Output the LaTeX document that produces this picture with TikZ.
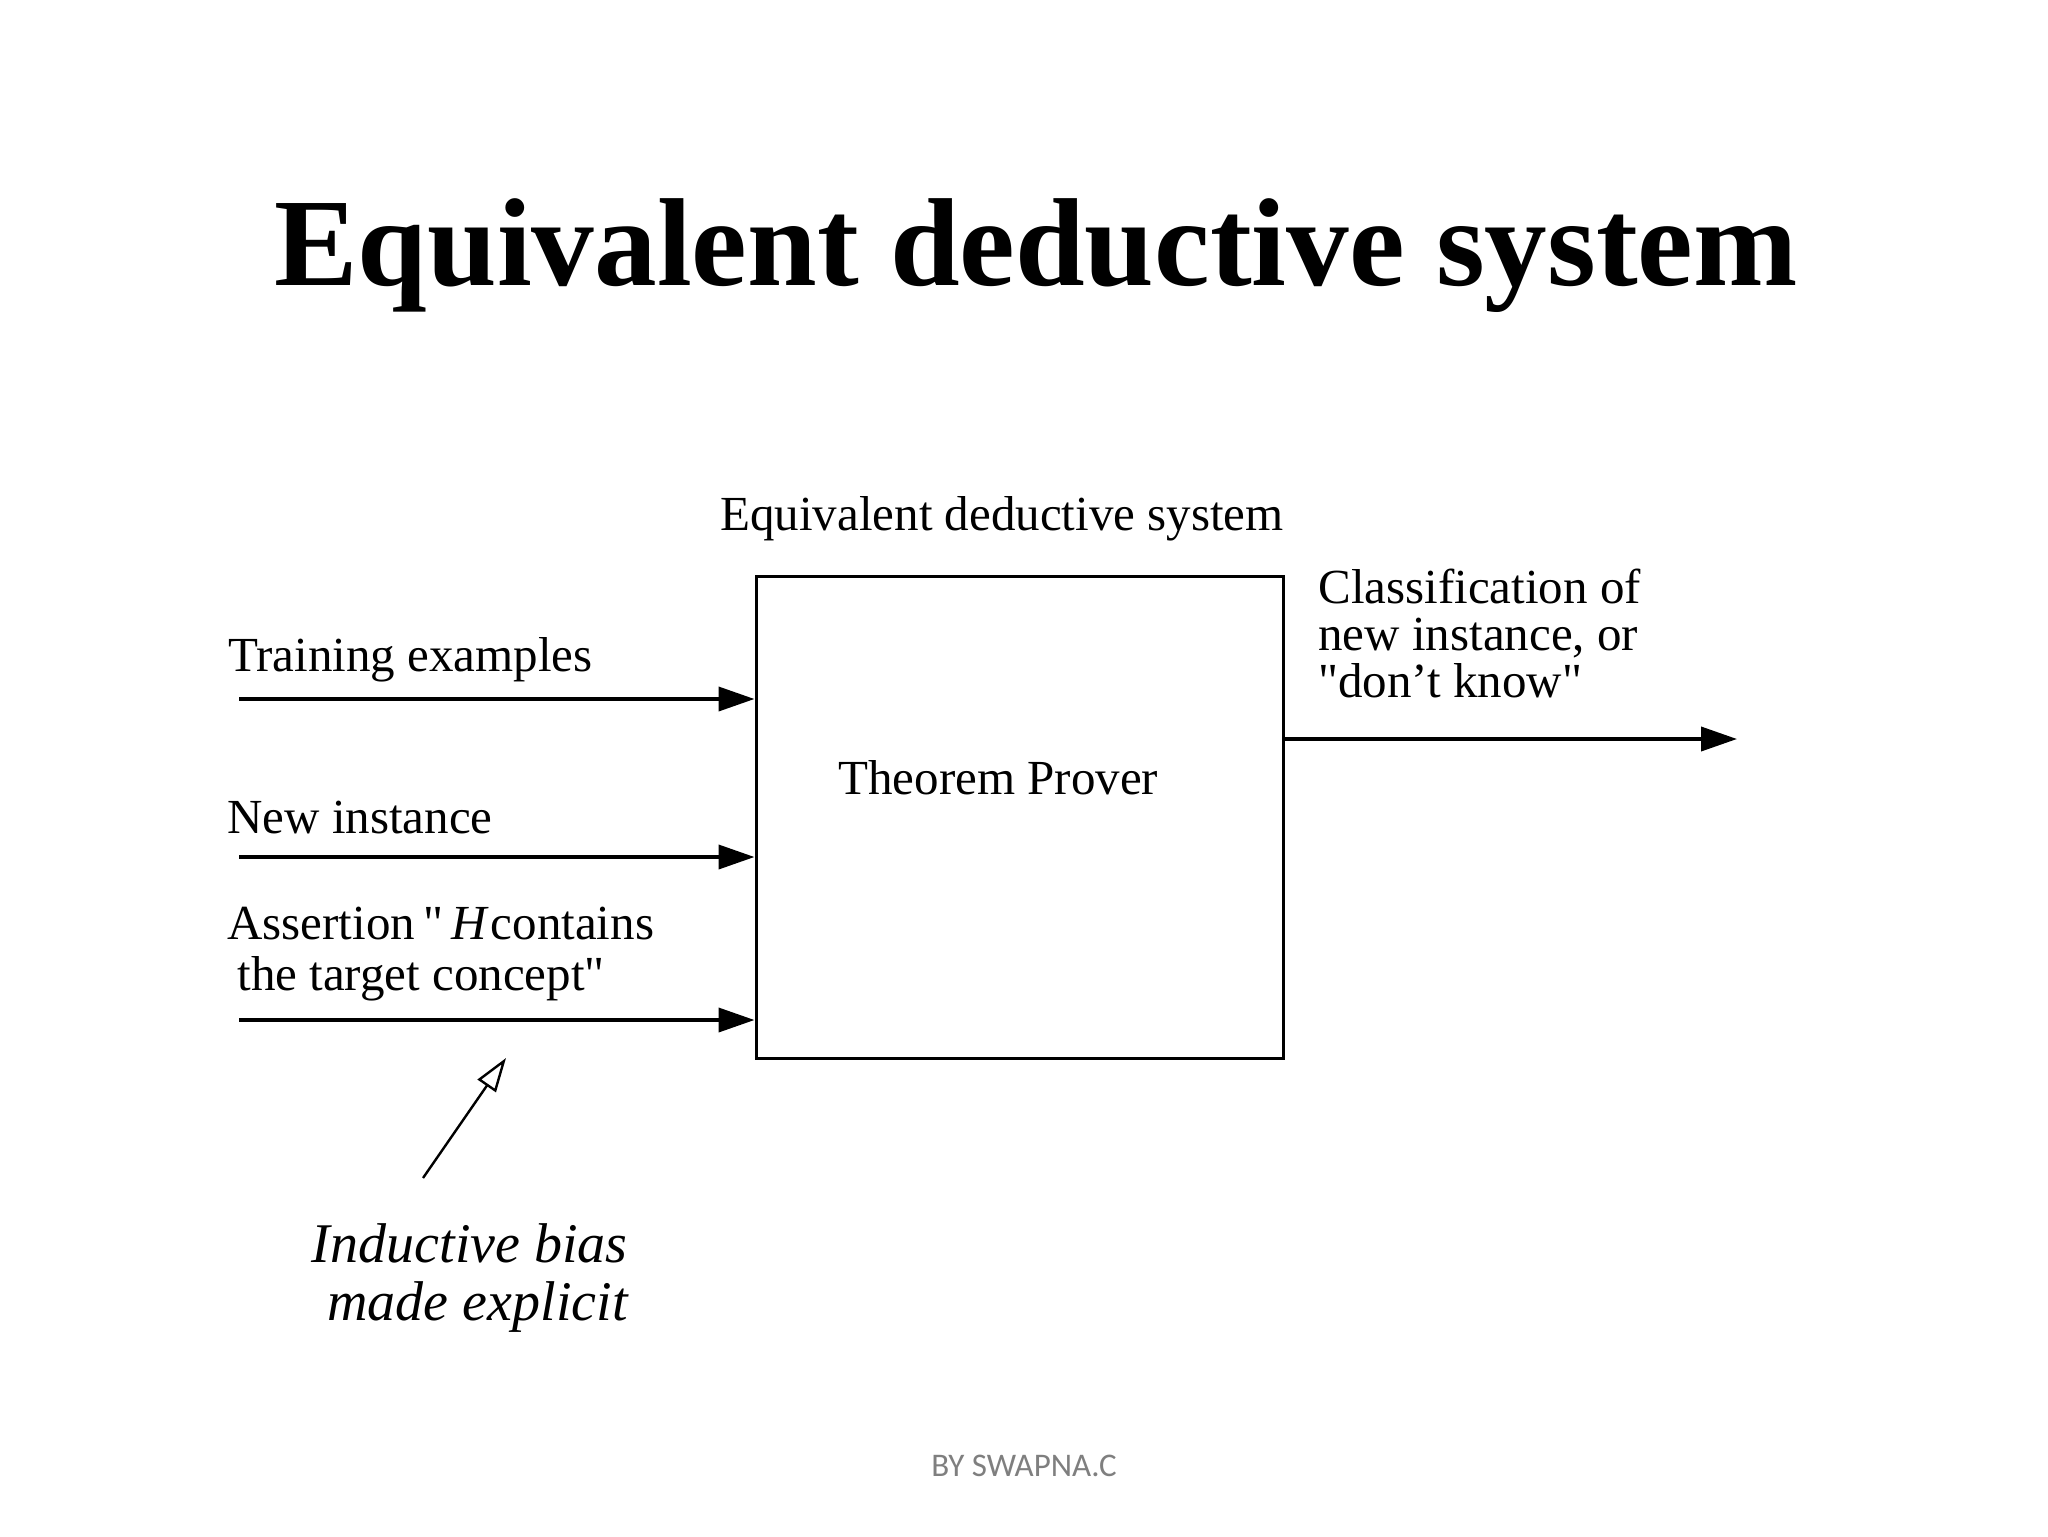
\documentclass[tikz,border=0pt]{standalone}
\usepackage{fontspec}
\setmainfont{Liberation Serif}
\newfontfamily\footfont{Carlito}
\usetikzlibrary{arrows.meta}
\definecolor{footgray}{HTML}{7F7F7F}
\begin{document}
\begin{tikzpicture}[x=0.5pt,y=-0.5pt,
  lbl/.style={inner sep=0pt, anchor=base west, font=\fontsize{24.5}{25.5}\selectfont},
  arr/.style={line width=1.9pt, -{Triangle[length=18pt,width=12pt]}},
  biasarr/.style={line width=1.2pt, -{Triangle[open,length=17pt,width=11pt,fill=white]}},
  boxstyle/.style={draw, line width=1.5pt, inner sep=0pt, minimum width=263.5pt, minimum height=241pt}]
\fill[white] (0,0) rectangle (2048,1536);
\useasboundingbox (0,0) rectangle (2048,1536);

% title
\node[inner sep=0pt, anchor=base, font=\fontsize{62.6}{70}\selectfont\bfseries] (title) at (1036,285) {Equivalent deductive system};

% box
\node[boxstyle] (prover) at (1019.5,817) {};
\node[lbl] (subtitle) at (720,530) {Equivalent deductive system};
\node[lbl] (tp) at (838,794) {Theorem Prover};

% inputs
\node[lbl] (train) at (228,671) {Training examples};
\node[lbl] (newinst) at (227,833) {New instance};
\node[lbl, align=left, font=\fontsize{24.5}{25.5}\selectfont] (assert) at (227,990) {Assertion\hspace{4pt}\textquotedbl\hspace{4pt}\textit{H}\hspace{1pt}contains\\\hspace{5pt}the target concept\textquotedbl};

\coordinate (in1) at (239,699);
\coordinate (in2) at (239,857);
\coordinate (in3) at (239,1020);
\draw[arr] (in1) -- (in1 -| prover.west);
\draw[arr] (in2) -- (in2 -| prover.west);
\draw[arr] (in3) -- (in3 -| prover.west);

% output
\node[lbl, align=left, font=\fontsize{24.5}{23.5}\selectfont] (cls) at (1318,697) {Classification of\\new instance, or\\\textquotedbl don’t know\textquotedbl};
\coordinate (out) at (1737,739);
\draw[arr] (prover.east |- out) -- (out);

% inductive bias
\node[inner sep=0pt, anchor=base east, align=right, font=\fontsize{28}{29}\selectfont\itshape] (bias) at (628,1320) {Inductive bias\\made explicit};
\coordinate (btail) at (423,1178);
\coordinate (bhead) at (506,1058);
\draw[biasarr] (btail) -- (bhead);

% footer
\node[inner sep=0pt, anchor=base, font=\footfont\fontsize{16.5}{18}\selectfont, text=footgray] (foot) at (1024,1476) {BY SWAPNA.C};
\end{tikzpicture}
\end{document}
